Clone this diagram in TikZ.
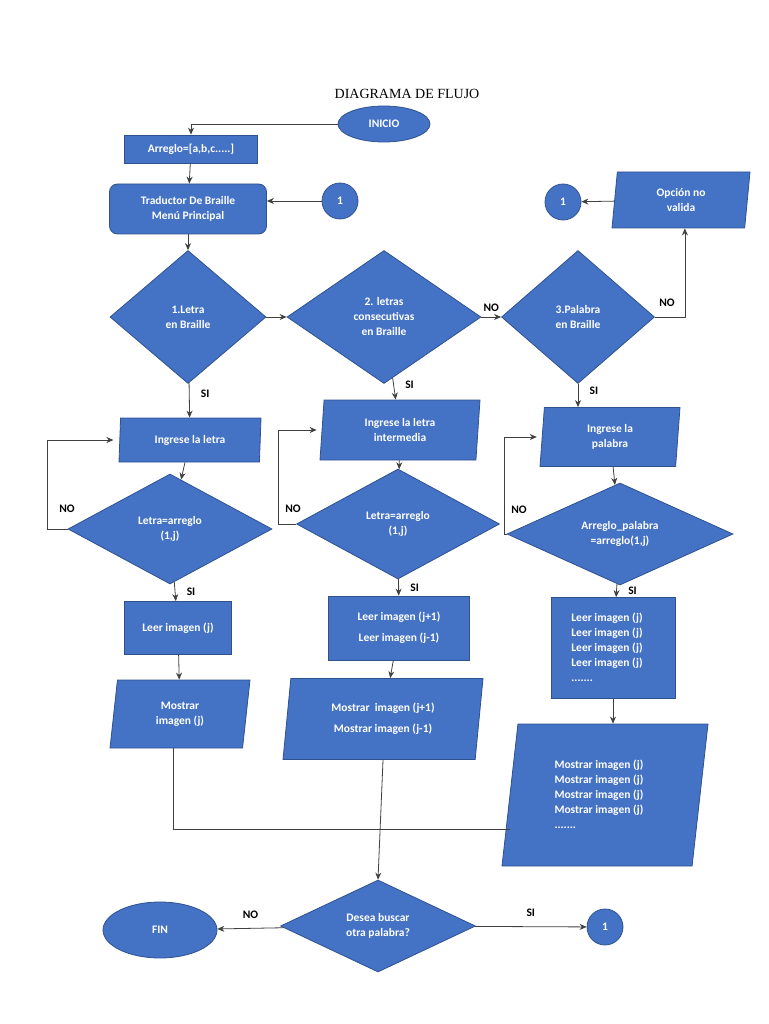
\documentclass[tikz,border=0pt]{standalone}
\usepackage{fontspec}
\setmainfont{Carlito}
\newfontfamily\titlefont{Liberation Serif}
\usetikzlibrary{shapes.geometric,arrows.meta}
\definecolor{fc}{HTML}{4472C4}
\definecolor{bc}{HTML}{2F528F}
\begin{document}
\begin{tikzpicture}[x=1pt,y=-1pt,
  base/.style={fill=fc,draw=bc,line width=0.8pt,text=white,font=\fontsize{11.5}{15}\selectfont\bfseries,align=center,inner sep=0pt},
  box/.style={base,rectangle},
  dia/.style={base,diamond},
  para/.style={base,trapezium,trapezium stretches body,trapezium left angle=#1,trapezium right angle={180-#1}},
  term/.style={base,ellipse},
  con/.style={base,circle,minimum size=36pt},
  arr/.style={-{Stealth[length=7pt,width=6pt]},draw=black!75,line width=0.8pt},
  ln/.style={draw=black!75,line width=0.8pt},
  lab/.style={font=\fontsize{11.5}{14}\selectfont\bfseries,text=black}]
\useasboundingbox (0,0) rectangle (768,1024);
\node[font=\titlefont\fontsize{14}{16}\selectfont] (title) at (407,94) {DIAGRAMA DE FLUJO};
\node[term,minimum width=92pt,minimum height=36pt] (ini) at (384,124) {INICIO};
\node[box,minimum width=133pt,minimum height=28pt] (arr) at (191,149) {Arreglo=[a,b,c.....]};
\node[box,minimum width=157pt,minimum height=50pt,rounded corners=8pt] (trad) at (188,209) {Traductor De Braille\\Menú Principal};
\node[con] (c1) at (340,201) {1};
\node[dia,minimum width=156pt,minimum height=133pt] (d1) at (188,317) {1.Letra\\en Braille};
\node[dia,minimum width=194pt,minimum height=133pt] (d2) at (384,317) {2. letras\\consecutivas\\en Braille};
\node[dia,minimum width=153pt,minimum height=133pt] (d3) at (578,317) {3.Palabra\\en Braille};
\node[para=77,minimum width=138pt,minimum height=56pt] (op) at (681,200) {Opción no\\valida};
\node[con] (c2) at (563,202) {1};
% column 1
\node[para=81,minimum width=142pt,minimum height=44pt] (in1) at (190,440) {Ingrese la letra};
\node[dia,minimum width=204pt,minimum height=110pt] (d4) at (170,529) {Letra=arreglo\\(1,j)};
\node[box,minimum width=107pt,minimum height=53pt] (le1) at (178,628) {Leer imagen (j)};
\node[para=73,minimum width=140pt,minimum height=68pt] (mo1) at (180,714) {Mostrar\\imagen (j)};
% column 2
\node[para=80,minimum width=160pt,minimum height=60pt] (in2) at (400,430) {Ingrese la letra\\intermedia};
\node[dia,minimum width=203pt,minimum height=110pt] (d5) at (398,524) {Letra=arreglo\\(1,j)};
\node[box,minimum width=141pt,minimum height=64pt] (le2) at (399,628) {Leer imagen (j+1)\\[6pt]Leer imagen (j-1)};
\node[para=76,minimum width=200pt,minimum height=81pt] (mo2) at (383,719) {Mostrar\ \ imagen (j+1)\\[6pt]Mostrar imagen (j-1)};
% column 3
\node[para=80,minimum width=140pt,minimum height=59pt] (in3) at (610,437) {Ingrese la\\palabra};
\node[dia,minimum width=226pt,minimum height=90pt] (d6) at (620,534) {Arreglo\_palabra\\=arreglo(1,j)};
\node[box,minimum width=124pt,minimum height=101pt,align=left] (le3) at (613,648) {\hspace*{-12pt}\begin{tabular}{@{}l@{}}Leer imagen (j)\\Leer imagen (j)\\Leer imagen (j)\\Leer imagen (j)\\.......\end{tabular}};
\node[para=78,minimum width=206pt,minimum height=142pt] (mo3) at (605,795) {\hspace*{-12pt}\begin{tabular}{@{}l@{}}Mostrar imagen (j)\\Mostrar imagen (j)\\Mostrar imagen (j)\\Mostrar imagen (j)\\.......\end{tabular}};
% end
\node[dia,minimum width=195pt,minimum height=92pt] (d7) at (378,926) {Desea buscar\\otra palabra?};
\node[term,minimum width=114pt,minimum height=56pt] (fin) at (160,930) {FIN};
\node[con] (c3) at (605,927) {1};
% connectors
\draw[arr] (ini.west) -| (arr.north);
\draw[arr] (arr) -- (trad);
\draw[arr] (c1) -- (trad.east |- c1);
\draw[arr] (trad) -- (d1);
\draw[arr] (d1) -- (d2);
\draw[arr] (d2) -- node[lab,above=2pt] {NO} (d3);
\draw[arr] (d3.east) -- ++(30,0) coordinate (k1) -- (k1 |- op.south);
\node[lab] (no3) at (667,303) {NO};
\draw[arr] (op) -- (c2);
\draw[arr] (d1) -- node[lab,right=8pt,pos=0.3] {SI} (in1);
\draw[arr] (in1) -- (d4);
\draw[arr] (d4.west) -- ++(-20,0) coordinate (k2) |- ([xshift=-6pt]in1.west);
\node[lab] (no4) at (67,509) {NO};
\draw[arr] (d4) -- node[lab,right=8pt,pos=0.5] {SI} (le1);
\draw[arr] (le1) -- (mo1);
\draw[ln] (mo1.south -| 173,0) -- (173,829) coordinate (k3) -- (k3 -| mo3.west);
\draw[arr] (d2) -- node[lab,right=8pt,pos=0.3] {SI} (in2);
\draw[arr] (in2) -- (d5);
\draw[arr] (d5.west) -- ++(-18,0) coordinate (k4) |- ([xshift=-5pt]in2.west);
\node[lab] (no5) at (293,509) {NO};
\draw[arr] (d5) -- node[lab,right=8pt,pos=0.5] {SI} (le2);
\draw[arr] (le2) -- (mo2);
\draw[arr] (mo2.south) -- (d7.north);
\draw[arr] (d3.south) -- node[lab,right=8pt,pos=0.3] {SI} (in3.north -| d3.south);
\draw[arr] (in3) -- (d6);
\draw[arr] (d6.west) -- ++(-2,0) coordinate (k5) |- ([xshift=-5pt]in3.west);
\node[lab] (no6) at (519,510) {NO};
\draw[arr] (d6) -- node[lab,right=8pt,pos=0.5] {SI} (le3);
\draw[arr] (le3) -- (mo3.north -| le3);
\draw[arr] (d7) -- node[lab,above=6pt] {NO} (fin);
\draw[arr] (d7) -- node[lab,above=6pt] {SI} (c3);
\end{tikzpicture}
\end{document}
